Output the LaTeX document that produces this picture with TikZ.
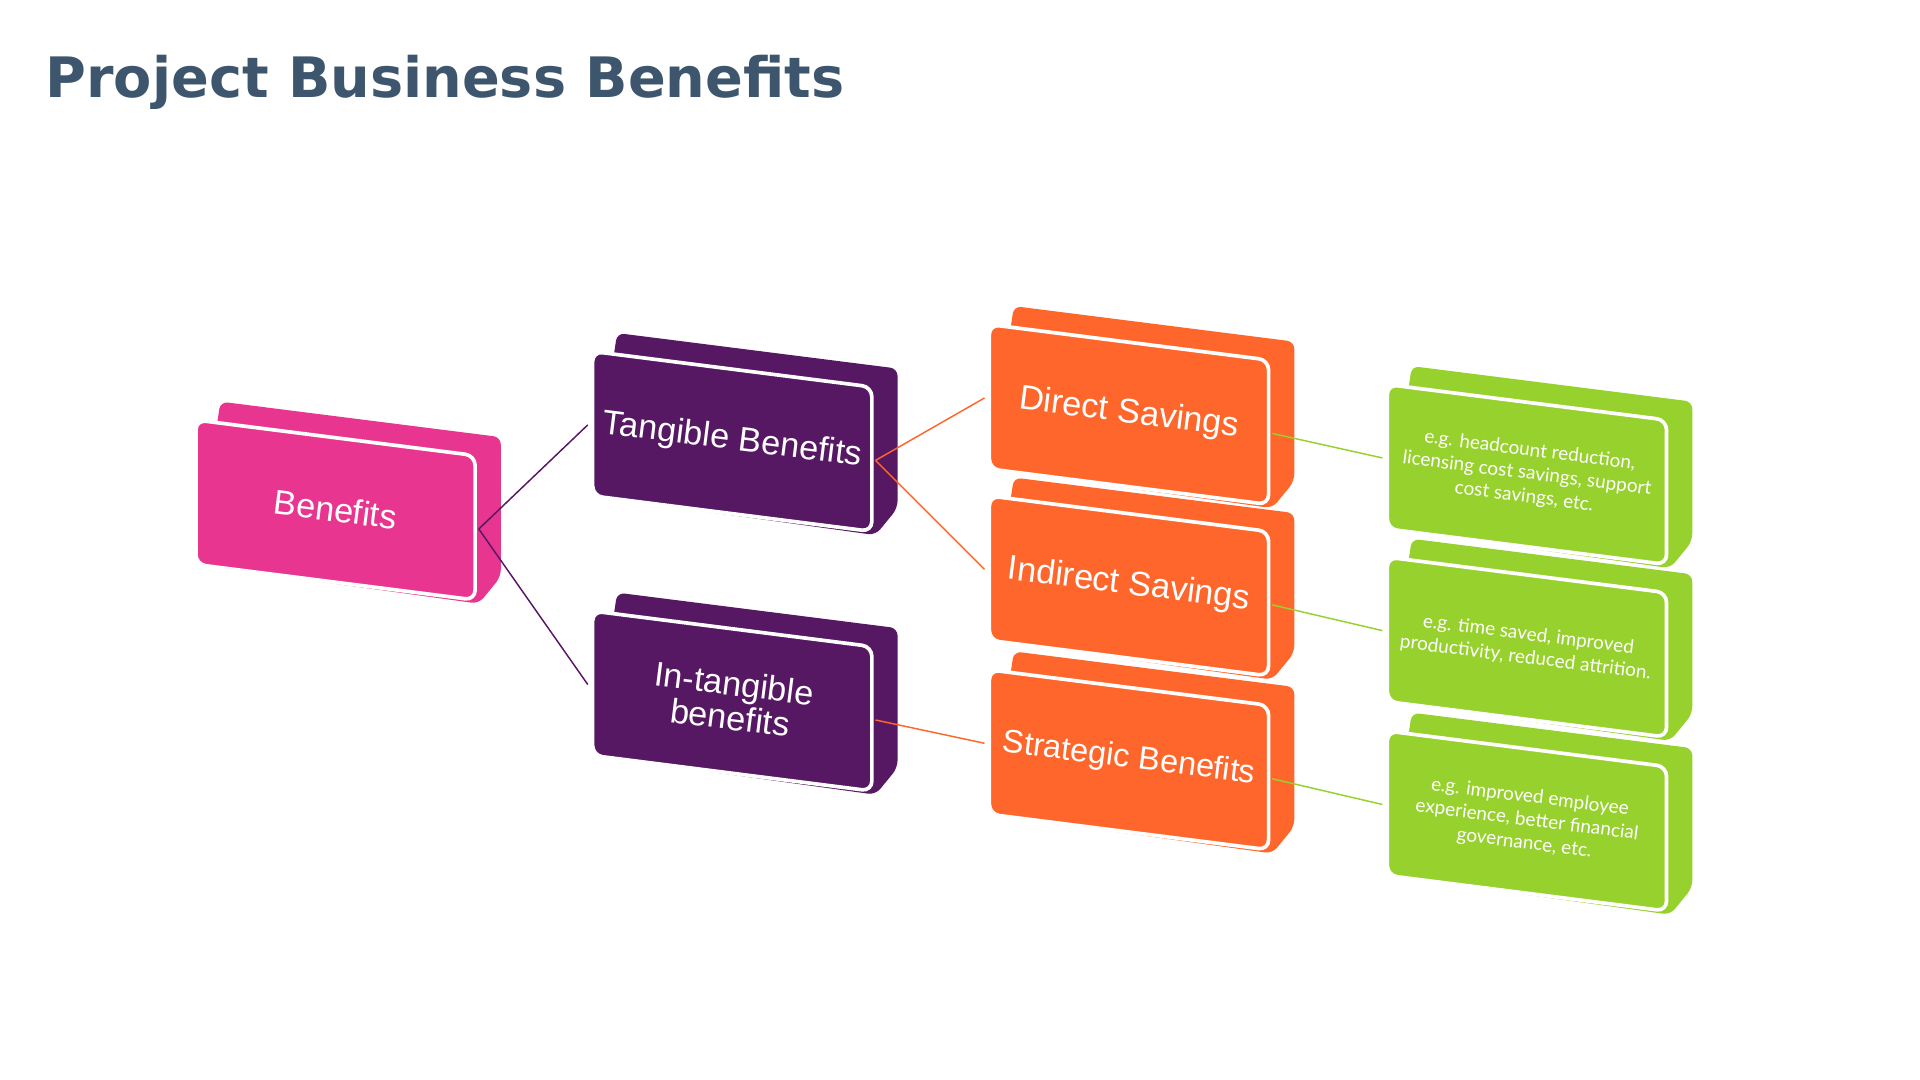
\documentclass[tikz,border=0pt]{standalone}
\usepackage{fontspec}
\setmainfont{Liberation Sans}
\newfontfamily\greenfont{Lato}
\newfontfamily\titlefont{DejaVu Sans}
\definecolor{cpink}{HTML}{E8358F}
\definecolor{cpurple}{HTML}{561763}
\definecolor{corange}{HTML}{FF662B}
\definecolor{cgreen}{HTML}{97D12D}
\definecolor{ctitle}{HTML}{3E566D}
\newcommand{\slab}[6]{%
 % #1 name, #2 x, #3 y, #4 colour, #5 font, #6 text
 \fill[#4,rounded corners=6pt] (#2+20,#3-15) -- (#2+249,#3+14) -- (#2+249,#3+128) -- (#2+231,#3+150) -- (#2,#3+118) -- cycle;
 \draw[white,line width=3pt,fill=#4,rounded corners=8pt] (#2,#3) -- (#2+228,#3+29) -- (#2+228,#3+147) -- (#2,#3+118) -- cycle;
 \node[text=white,rotate=-7.2,align=center,font=#5,inner sep=0pt] (#1) at (#2+114,#3+73) {#6};
 \coordinate (#1-l) at (#2-4,#3+60);
 \coordinate (#1-r) at (#2+231,#3+89);
}
\begin{document}
\begin{tikzpicture}[x=1pt,y=-1pt,
 link/.style={line width=1.2pt}]
\useasboundingbox (0,0) rectangle (1568,882);
\node[anchor=west,text=ctitle,font=\titlefont\bfseries\fontsize{45.5}{50}\selectfont,inner sep=0pt] (title) at (37,67) {Project Business Benefits};
\slab{ben}{160}{343}{cpink}{\fontsize{28}{30}\selectfont}{Benefits}
\slab{tan}{484}{287}{cpurple}{\fontsize{28}{30}\selectfont}{Tangible Benefits}
\slab{int}{484}{499}{cpurple}{\fontsize{28}{28}\selectfont}{In-tangible\\benefits}
\slab{dir}{808}{265}{corange}{\fontsize{28}{30}\selectfont}{Direct Savings}
\slab{ind}{808}{405}{corange}{\fontsize{28}{30}\selectfont}{Indirect Savings}
\slab{str}{808}{547}{corange}{\fontsize{26.5}{30}\selectfont}{Strategic Benefits}
\slab{g1}{1133}{314}{cgreen}{\greenfont\fontsize{15.5}{19}\selectfont}{e.g. headcount reduction,\\licensing cost savings, support\\cost savings, etc.}
\slab{g2}{1133}{455}{cgreen}{\greenfont\fontsize{15.5}{19}\selectfont}{e.g. time saved, improved\\productivity, reduced attrition.}
\slab{g3}{1133}{597}{cgreen}{\greenfont\fontsize{15.5}{19}\selectfont}{e.g. improved employee\\experience, better financial\\governance, etc.}
\draw[link,cpurple] (ben-r) -- (tan-l);
\draw[link,cpurple] (ben-r) -- (int-l);
\draw[link,corange] (tan-r) -- (dir-l);
\draw[link,corange] (tan-r) -- (ind-l);
\draw[link,corange] (int-r) -- (str-l);
\draw[link,cgreen] (dir-r) -- (g1-l);
\draw[link,cgreen] (ind-r) -- (g2-l);
\draw[link,cgreen] (str-r) -- (g3-l);
\end{tikzpicture}
\end{document}
